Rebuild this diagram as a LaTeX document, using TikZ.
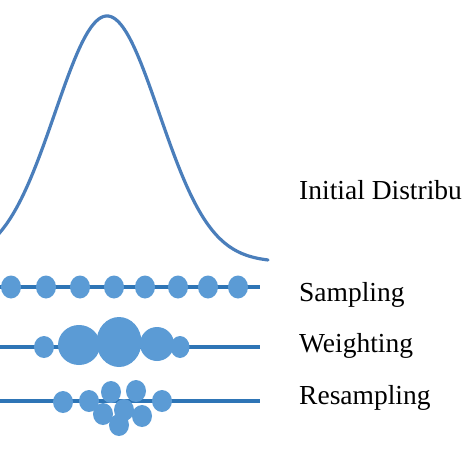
\documentclass[tikz,border=0pt]{standalone}
\usepackage{fontspec}
\setmainfont{Liberation Serif}
\usepackage{xcolor}
\usepackage{tikz}
\usetikzlibrary{positioning}
\definecolor{curveblue}{RGB}{74,126,187}
\definecolor{axisblue}{RGB}{46,117,182}
\definecolor{dotblue}{RGB}{91,155,213}
\tikzset{x=1pt,y=-1pt,
stage/.style={anchor=base west,inner sep=0pt,font=\fontsize{27.5}{32}\selectfont},
axis/.style={draw=axisblue,line width=4pt},
dot/.style={fill=dotblue}}

\begin{document}
\begin{tikzpicture}
\useasboundingbox (0,0) rectangle (462,462);
\clip (0,0) rectangle (462,462);
\draw[curveblue,line width=3.2pt,line cap=round]
  plot[domain=-20:268,samples=120,smooth] (\x,{262-246*exp(-0.5*((\x-107)/52)^2)});
\coordinate (s0) at (0,287); \coordinate (s1) at (260,287);
\coordinate (w0) at (0,347); \coordinate (w1) at (260,347);
\coordinate (r0) at (0,401); \coordinate (r1) at (260,401);
\draw[axis] (s0) -- (s1);
\draw[axis] (w0) -- (w1);
\draw[axis] (r0) -- (r1);
% sampling
\foreach \px in {11,46,80,114,145,178,208,238}
  \fill[dot] (\px,287) ellipse [x radius=10pt,y radius=11.5pt];
% weighting
\fill[dot] (44,347) ellipse [x radius=10pt,y radius=11pt];
\fill[dot] (79,345) ellipse [x radius=21pt,y radius=20pt];
\fill[dot] (157,344) ellipse [x radius=17pt,y radius=17pt];
\fill[dot] (180,347) ellipse [x radius=9.5pt,y radius=11pt];
\fill[dot] (119,342) ellipse [x radius=22.5pt,y radius=25pt];
% resampling
\foreach \px/\py in {63/402,89/401,111/392,136/391,162/401,103/414,124/410,142/416,119/425}
  \fill[dot] (\px,\py) ellipse [x radius=10pt,y radius=11pt];
\node[stage] (init) at (299,199) {Initial Distribution};
\node[stage] (samp) at (299,301) {Sampling};
\node[stage] (weig) at (299,352) {Weighting};
\node[stage] (resa) at (299,404) {Resampling};
\end{tikzpicture}
\end{document}
